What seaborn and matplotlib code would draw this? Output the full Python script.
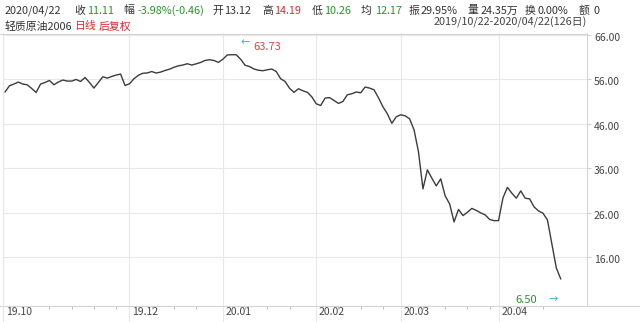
import numpy as np
import pandas as pd
import seaborn as sns
import matplotlib
matplotlib.use("Agg")
import matplotlib.pyplot as plt
from matplotlib.lines import Line2D
from matplotlib.transforms import ScaledTranslation

# ---------------- data ----------------
close = [
    53.08, 54.49, 54.88, 55.33, 54.88, 54.72, 53.89, 52.99, 54.88, 55.24,
    55.69, 54.72, 55.33, 55.78, 55.55, 55.55, 55.91, 55.46, 56.36, 55.24,
    53.98, 55.24, 56.52, 56.22, 56.58, 56.90, 57.12, 54.56, 54.94, 56.07,
    56.85, 57.30, 57.37, 57.69, 57.35, 57.57, 57.93, 58.22, 58.65, 58.97,
    59.15, 59.44, 59.15, 59.42, 59.73, 60.18, 60.34, 60.16, 59.75, 60.45,
    61.42, 61.46, 61.46, 60.45, 59.10, 58.81, 58.25, 57.98, 57.87, 58.09,
    58.25, 57.71, 56.07, 55.46, 53.93, 53.03, 53.82, 53.37, 53.03, 52.02,
    50.45, 50.07, 51.73, 51.84, 51.19, 50.54, 50.97, 52.47, 52.70, 53.10,
    52.92, 54.20, 53.98, 53.60, 51.80, 49.78, 48.20, 46.07, 47.53, 47.98,
    47.75, 47.08, 44.61, 39.66, 31.35, 35.62, 33.75, 32.02, 33.60, 29.78,
    27.98, 23.93, 26.74, 25.35, 26.11, 26.97, 26.52, 25.96, 25.51, 24.49,
    24.22, 24.22, 29.33, 31.69, 30.38, 29.26, 30.90, 29.26, 29.10, 27.30,
    26.40, 25.89, 24.38, 19.00, 13.60, 11.11,
]
month_labels = ["19.10", "19.12", "20.01", "20.02", "20.03", "20.04"]
month_pos = [-0.45, 28, 49, 70, 89, 111]
y_ticks = [16, 26, 36, 46, 56, 66]
high_value = 63.73
high_pos = 53
low_value = 6.50
low_pos = 124.3

header1 = [
    ("2020/04/22", 5, "k"), ("收", 74, "k"), ("11.11", 87, "g"), ("幅", 123, "k"),
    ("-3.98%(-0.46)", 137, "g"), ("开", 212, "k"), ("13.12", 224, "k"), ("高", 262, "k"),
    ("14.19", 274, "r"), ("低", 312, "k"), ("10.26", 324, "g"), ("均", 361, "k"),
    ("12.17", 375, "g"), ("振", 409, "k"), ("29.95%", 421, "k"), ("量", 467, "k"),
    ("24.35万", 481, "k"), ("换", 525, "k"), ("0.00%", 538, "k"), ("额", 579, "k"),
    ("0", 593, "k"),
]
header2 = [("轻质原油2006", 5, "k"), ("日线", 74, "r"), ("后复权", 99, "r")]
range_text = "2019/10/22-2020/04/22(126日)"

# ---------------- style ----------------
sns.set_theme(style="white")
plt.rcParams["font.family"] = ["Noto Sans CJK SC", "DejaVu Sans"]
COLORS = {"k": "#333333", "g": "#26962a", "r": "#e0292e"}
GRID = "#e8e8e8"
AXC = "#d4d4d4"

W, H = 640, 322
fig = plt.figure(figsize=(W / 100, H / 100), dpi=100)
ax = fig.add_axes([3 / W, 16 / H, 584 / W, 273 / H])

df = pd.DataFrame({"idx": np.arange(len(close)), "close": close})
sns.lineplot(data=df, x="idx", y="close", ax=ax, color="#3c3c3c", linewidth=1.0)

ax.set_xlim(-0.45, 130.9)
ax.set_ylim(5.06, 66.34)
ax.set_xlabel("")
ax.set_ylabel("")

# y axis on right
ax.yaxis.tick_right()
ax.set_yticks(y_ticks)
ax.set_yticklabels([f"{v:.2f}" for v in y_ticks], fontsize=7.5, color="#444444")
ax.tick_params(axis="y", which="major", right=True, left=False, length=3,
               width=0.8, color=AXC, pad=2)
for lab in ax.get_yticklabels():
    lab.set_transform(lab.get_transform() + ScaledTranslation(0, -1.5 / 72, fig.dpi_scale_trans))

# x axis month ticks (long lines through the label row)
ax.set_xticks(month_pos)
ax.set_xticklabels(month_labels, fontsize=7.5, color="#444444")
ax.tick_params(axis="x", which="major", bottom=True, length=11.5, width=0.8,
               color=GRID, pad=-10.5, direction="out")
offset = ScaledTranslation(2.0 / 72, 0, fig.dpi_scale_trans)
for lab in ax.get_xticklabels():
    lab.set_ha("left")
    lab.set_transform(lab.get_transform() + offset)
minor = [p for m0, m1 in zip([0] + month_pos[1:], month_pos[1:] + [126])
         for p in np.arange(m0 + 5, m1 - 1, 5)]
ax.set_xticks(minor, minor=True)
ax.tick_params(axis="x", which="minor", bottom=True, length=2.5, width=0.7,
               color="#bbbbbb", direction="out")

ax.grid(True, axis="both", which="major", color=GRID, linewidth=0.8)
for s in ["top", "bottom"]:
    ax.spines[s].set_visible(False)
ax.spines["left"].set_color(GRID)
ax.spines["left"].set_linewidth(0.8)
ax.spines["right"].set_color(AXC)
ax.spines["right"].set_linewidth(0.8)

# borders: top only up to the right axis, bottom full width
fig.add_artist(Line2D([0, 587 / W], [1 - 33.5 / H, 1 - 33.5 / H], color=AXC, lw=0.8))
fig.add_artist(Line2D([0, 1], [16 / H, 16 / H], color=AXC, lw=0.8))
fig.add_artist(Line2D([3 / W, 3 / W], [0, 16 / H], color=GRID, lw=0.8))

# annotations
ax.annotate("←", xy=(high_pos, high_value), xytext=(0, 2), textcoords="offset points",
            ha="left", va="center", fontsize=8, color="#4aaed0",
            family=["DejaVu Sans"])
ax.annotate(f"{high_value:.2f}", xy=(high_pos, high_value), xytext=(9, -2),
            textcoords="offset points", ha="left", va="center", fontsize=8,
            color="#e04444")
ax.annotate("→", xy=(low_pos, low_value), xytext=(0, 0), textcoords="offset points",
            ha="right", va="center", fontsize=8, color="#4aaed0",
            family=["DejaVu Sans"])
ax.annotate(f"{low_value:.2f}", xy=(low_pos, low_value), xytext=(-15, 0),
            textcoords="offset points", ha="right", va="center", fontsize=8,
            color="#26962a")

# header
for txt, x, c in header1:
    fig.text(x / W, 1 - 10.5 / H, txt, fontsize=7.8, color=COLORS[c], ha="left", va="center")
for txt, x, c in header2:
    fig.text(x / W, 1 - 26.5 / H, txt, fontsize=7.8, color=COLORS[c], ha="left", va="center")
fig.text(587 / W, 1 - 22 / H, range_text, fontsize=7.8, color="#444444", ha="right", va="center")

fig.savefig("out.png", dpi=100, facecolor="white")
